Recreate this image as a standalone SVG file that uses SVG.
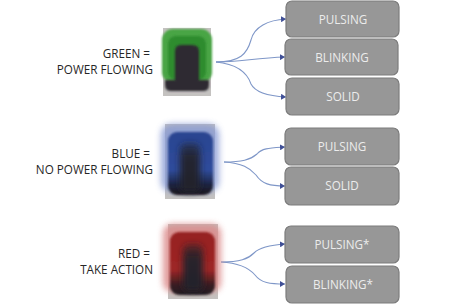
<svg xmlns="http://www.w3.org/2000/svg" width="474" height="306" viewBox="0 0 474 306">
  <style>
    .box { fill: #979797; stroke: #7c7c7c; stroke-width: 1.2; }
    .boxtext { font: 11.7px "Open Sans", "Liberation Sans", sans-serif; fill: #ececec; text-anchor: middle; }
    .label { font: 11.7px "Open Sans", "Liberation Sans", sans-serif; fill: #262626; text-anchor: end; }
    .wire { fill: none; stroke: #7f97c8; stroke-width: 1.1; marker-end: url(#tip); }
    .plate { fill: #c4c2c0; }
  </style>
  <defs>
    <marker id="tip" markerUnits="userSpaceOnUse" markerWidth="6" markerHeight="6" refX="5" refY="3" orient="auto">
      <path d="M0 0L5 3L0 6Z" fill="#3f4f96"/>
    </marker>
    <filter id="soft" x="-30%" y="-30%" width="160%" height="160%"><feGaussianBlur stdDeviation="1.3"/></filter>
    <filter id="softer" x="-60%" y="-40%" width="220%" height="180%"><feGaussianBlur stdDeviation="3"/></filter>
    <linearGradient id="blueBody" x1="0" y1="0" x2="0" y2="1">
      <stop offset="0" stop-color="#2a4490"/>
      <stop offset="0.6" stop-color="#2f4c9c"/>
      <stop offset="0.84" stop-color="#1c2340"/>
      <stop offset="1" stop-color="#1a181c"/>
    </linearGradient>
    <linearGradient id="redBody" x1="0" y1="0" x2="0" y2="1">
      <stop offset="0" stop-color="#962020"/>
      <stop offset="0.6" stop-color="#9e2626"/>
      <stop offset="0.84" stop-color="#3a1d22"/>
      <stop offset="1" stop-color="#201e24"/>
    </linearGradient>
    <linearGradient id="tower" x1="0" y1="0" x2="0" y2="1">
      <stop offset="0" stop-color="#22222a" stop-opacity="0.5"/>
      <stop offset="0.3" stop-color="#22222a" stop-opacity="0.95"/>
      <stop offset="1" stop-color="#22222a"/>
    </linearGradient>
  </defs>

  <g id="connectors">
    <path class="wire" d="M216 62C240 62 247 54 251 40C254 27 268 20 286 19"/>
    <path class="wire" d="M216 62C240 62 255 58 285 57"/>
    <path class="wire" d="M216 62C236 64 247 72 251 84C255 92 268 96 286 97"/>
    <path class="wire" d="M224 162C242 162 250 160 257 154C262 148 270 148 285 147"/>
    <path class="wire" d="M224 162C242 163 250 168 256 175C262 184 270 186 285 186"/>
    <path class="wire" d="M221 262C240 262 248 259 254 253C260 247 270 245 285 244"/>
    <path class="wire" d="M221 262C240 263 249 268 255 275C261 283 270 284 285 284"/>
  </g>

  <g id="green-device">
    <rect class="plate" x="163" y="28" width="48" height="68"/>
    <rect x="162" y="29" width="50" height="54" rx="11" fill="#4aa544" filter="url(#soft)"/>
    <rect x="168" y="36" width="38" height="44" rx="8" fill="#2f8c2f" filter="url(#soft)"/>
    <path d="M165 80H175V51Q175 45 181 45H192Q199 45 199 51V80H209V85Q209 91 203 91H171Q165 91 165 85Z" fill="#2f2c33" filter="url(#soft)"/>
  </g>
  <g id="green-label">
    <text class="label" x="150" y="58">GREEN =</text>
    <text class="label" x="153" y="74">POWER FLOWING</text>
  </g>
  <g id="green-pulsing"><rect class="box" x="286" y="1" width="113" height="36" rx="6"/><text class="boxtext" x="343" y="24">PULSING</text></g>
  <g id="green-blinking"><rect class="box" x="285" y="39" width="113" height="36" rx="6"/><text class="boxtext" x="342" y="62">BLINKING</text></g>
  <g id="green-solid"><rect class="box" x="286" y="78" width="113" height="37" rx="6"/><text class="boxtext" x="343" y="101">SOLID</text></g>

  <g id="blue-device">
    <rect class="plate" x="165" y="124" width="50" height="75"/>
    <rect x="161" y="124" width="58" height="68" rx="10" fill="#8699d4" opacity="0.8" filter="url(#softer)"/>
    <rect x="168" y="132" width="45" height="63" rx="9" fill="url(#blueBody)" filter="url(#soft)"/>
    <rect x="180" y="143" width="20" height="49" rx="6" fill="url(#tower)" filter="url(#softer)"/>
  </g>
  <g id="blue-label">
    <text class="label" x="150" y="158">BLUE =</text>
    <text class="label" x="153" y="174">NO POWER FLOWING</text>
  </g>
  <g id="blue-pulsing"><rect class="box" x="285" y="128" width="114" height="37" rx="6"/><text class="boxtext" x="342" y="151">PULSING</text></g>
  <g id="blue-solid"><rect class="box" x="285" y="167" width="114" height="38" rx="6"/><text class="boxtext" x="342" y="190">SOLID</text></g>

  <g id="red-device">
    <rect class="plate" x="168" y="224" width="50" height="75"/>
    <rect x="163" y="224" width="58" height="68" rx="9" fill="#dc8a8a" opacity="0.85" filter="url(#softer)"/>
    <rect x="170" y="232" width="45" height="63" rx="9" fill="url(#redBody)" filter="url(#soft)"/>
    <rect x="183" y="244" width="20" height="47" rx="6" fill="url(#tower)" filter="url(#softer)"/>
  </g>
  <g id="red-label">
    <text class="label" x="150" y="258">RED =</text>
    <text class="label" x="153" y="274">TAKE ACTION</text>
  </g>
  <g id="red-pulsing"><rect class="box" x="285" y="226" width="114" height="37" rx="6"/><text class="boxtext" x="342" y="249">PULSING*</text></g>
  <g id="red-blinking"><rect class="box" x="286" y="266" width="113" height="37" rx="6"/><text class="boxtext" x="343" y="289">BLINKING*</text></g>
</svg>
